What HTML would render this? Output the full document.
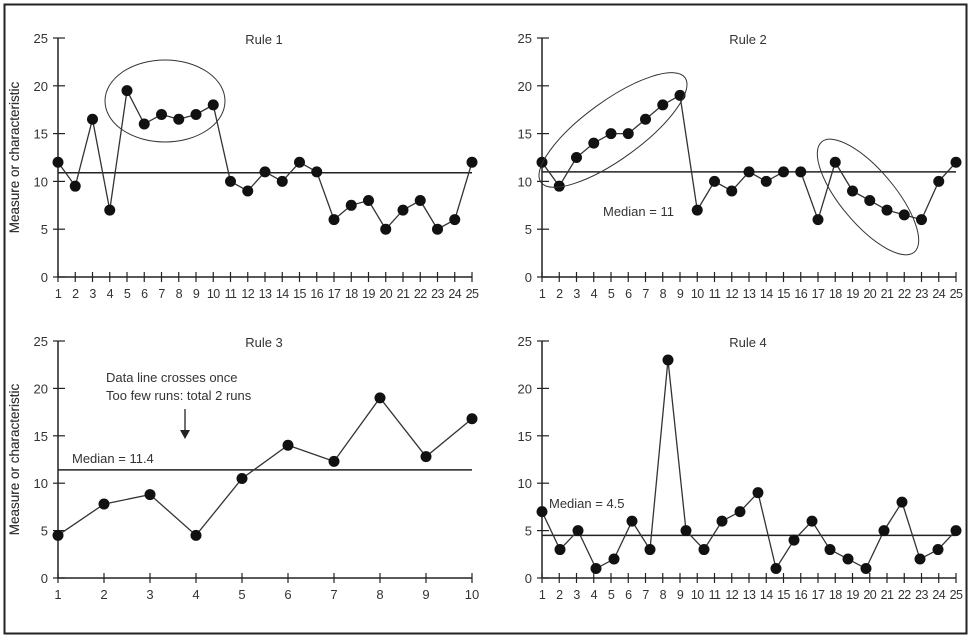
<!DOCTYPE html>
<html><head><meta charset="utf-8">
<style>
html,body{margin:0;padding:0;background:#fff;}
svg{display:block;font-family:"Liberation Sans",sans-serif;}
</style></head>
<body>
<svg id="c" width="970" height="639" viewBox="0 0 970 639" xmlns="http://www.w3.org/2000/svg">
<rect x="4.5" y="4.5" width="962" height="629" fill="none" stroke="#222" stroke-width="2"/>
</svg>
<script>
const rule1Values=[12,9.5,16.5,7,19.5,16,17,16.5,17,18,10,9,11,10,12,11,6,7.5,8,5,7,8,5,6,12];
const rule2Values=[12,9.5,12.5,14,15,15,16.5,18,19,7,10,9,11,10,11,11,6,12,9,8,7,6.5,6,10,12];
const rule3Values=[4.5,7.8,8.8,4.5,10.5,14,12.3,19,12.8,16.8];
const rule4Values=[7,3,5,1,2,6,3,23,5,3,6,7,9,1,4,6,3,2,1,5,8,2,3,5];
const yTicks=[0,5,10,15,20,25];
const xTickCounts=[25,25,10,25];
const medians=[10.9,11,11.4,4.5];
const titles=["Rule 1","Rule 2","Rule 3","Rule 4"];

const NS="http://www.w3.org/2000/svg";
const svg=document.getElementById('c');
function mk(tag,attrs,parent){const e=document.createElementNS(NS,tag);for(const k in attrs)e.setAttribute(k,attrs[k]);(parent||svg).appendChild(e);return e;}

const panels=[
 {vals:rule1Values,x0:58,x1:472,y0:277,y1:38,tx:264,ty:44},
 {vals:rule2Values,x0:542,x1:956,y0:277,y1:38,tx:748,ty:44},
 {vals:rule3Values,x0:58,x1:472,y0:578,y1:341,tx:264,ty:347},
 {vals:rule4Values,x0:542,x1:956,y0:578,y1:341,tx:748,ty:347}
];

panels.forEach((p,pi)=>{
  const g=mk('g',{});
  
  
  const n=p.vals.length;
  const nt=xTickCounts[pi];
  const med=medians[pi];
  const xs=i=>p.x0+(p.x1-p.x0)*i/(n-1);
  const xt=i=>p.x0+(p.x1-p.x0)*i/(nt-1);
  const ys=v=>p.y0-(p.y0-p.y1)*v/25;
  const ya=mk('line',{x1:p.x0,y1:p.y1,x2:p.x0,y2:p.y0,stroke:'#222','stroke-width':1.5},g);
  
  
  const xa=mk('line',{x1:p.x0,y1:p.y0,x2:p.x1,y2:p.y0,stroke:'#222','stroke-width':1.5},g);
  
  
  yTicks.forEach(t=>{
    const y=ys(t);
    mk('line',{x1:p.x0-5,y1:y,x2:p.x0+7,y2:y,stroke:'#222','stroke-width':1.2},g);
    const tl=mk('text',{x:p.x0-10,y:y+5,'font-size':13,'text-anchor':'end',fill:'#333'},g);
    tl.textContent=t;
    
    
  });
  for(let i=0;i<nt;i++){
    const x=xt(i);
    mk('line',{x1:x,y1:p.y0-5,x2:x,y2:p.y0+5,stroke:'#222','stroke-width':1.2},g);
    const tl=mk('text',{x:x,y:p.y0+21,'font-size':nt>10?12.5:13,'text-anchor':'middle',fill:'#333','letter-spacing':nt>10?'-0.6':'0'},g);
    tl.textContent=i+1;
    
    
  }
  const yl=mk('text',{x:0,y:0,'font-size':13.5,'text-anchor':'middle',fill:'#333',transform:`translate(19,${(p.y0+p.y1)/2}) rotate(-90)`},g);
  yl.textContent='Measure or characteristic';
  
  
  const tt=mk('text',{x:p.tx,y:p.ty,'font-size':13,'text-anchor':'middle',fill:'#333'},g);
  tt.textContent=titles[pi];
  
  
  const ml=mk('line',{x1:p.x0,y1:ys(med),x2:p.x1,y2:ys(med),stroke:'#222','stroke-width':1.5},g);
  
  
  const pts=p.vals.map((v,i)=>xs(i)+','+ys(v)).join(' ');
  const pl=mk('polyline',{points:pts,fill:'none',stroke:'#333','stroke-width':1.3},g);
  
  
  p.vals.forEach((v,i)=>{
    const c=mk('circle',{cx:xs(i),cy:ys(v),r:5.5,fill:'#111'},g);
    
    
  });
});

function ell(cx,cy,rx,ry,rot,name){
  const e=mk('ellipse',{cx:cx,cy:cy,rx:rx,ry:ry,fill:'none',stroke:'#333','stroke-width':1,transform:`rotate(${rot} ${cx} ${cy})`});
  
  
}
ell(165,101,60,41,0,'rule1-highlight-ellipse');
ell(613,130,89,29,-36,'rule2-rising-ellipse');
ell(868,197,72,27,50,'rule2-falling-ellipse');
function txt(x,y,s,name){
  const t=mk('text',{x:x,y:y,'font-size':13,fill:'#333'});
  t.textContent=s;
  
  
}
txt(603,216,'Median = 11','rule2-median-label');
txt(549,508,'Median = 4.5','rule4-median-label');
txt(72,463,'Median = 11.4','rule3-median-label');
txt(106,382,'Data line crosses once','rule3-note-line1');
txt(106,400,'Too few runs: total 2 runs','rule3-note-line2');
const ar=mk('line',{x1:185,y1:409,x2:185,y2:432,stroke:'#222','stroke-width':1.3});


const ah=mk('polygon',{points:'180,430 190,430 185,439',fill:'#222'});


</script>
</body></html>
